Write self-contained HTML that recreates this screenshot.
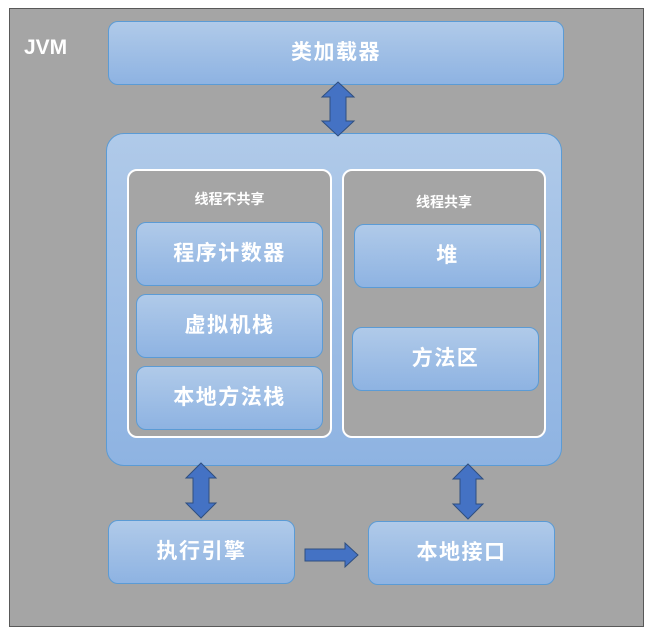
<!DOCTYPE html>
<html><head><meta charset="utf-8"><style>
body{margin:0;width:654px;height:634px;background:#fff;position:relative;overflow:hidden;font-family:"Liberation Sans","Noto Sans CJK SC",sans-serif}
.a{position:absolute;box-sizing:border-box}
.bx{background:linear-gradient(#b0cae9,#8eb3e2);border:1px solid #5b9bd5;border-radius:10px;color:#fff;font-weight:bold;font-size:21px;display:flex;align-items:center;justify-content:center;letter-spacing:1.5px;padding-bottom:4px}
.in{border:2px solid #fff;border-radius:10px;background:#a5a5a5}
.lb{color:#fff;font-weight:bold;font-size:14px;text-align:center}
</style></head><body>
<div class="a" style="left:9px;top:8px;width:635px;height:619px;background:#a5a5a5;border:1px solid #595959"></div>
<div class="a" style="left:24px;top:36px;color:#fff;font-size:21px;font-weight:bold">JVM</div>
<div class="a bx" style="left:108px;top:21px;width:456px;height:64px">类加载器</div>
<div class="a bx" style="left:106px;top:133px;width:456px;height:333px;border-radius:18px"></div>
<div class="a in" style="left:127px;top:169px;width:205px;height:269px"></div>
<div class="a in" style="left:342px;top:169px;width:204px;height:269px"></div>
<div class="a lb" style="left:127px;top:189px;width:205px">线程不共享</div>
<div class="a lb" style="left:342px;top:192px;width:204px">线程共享</div>
<div class="a bx" style="left:136px;top:222px;width:187px;height:64px">程序计数器</div>
<div class="a bx" style="left:136px;top:294px;width:187px;height:64px">虚拟机栈</div>
<div class="a bx" style="left:136px;top:366px;width:187px;height:64px">本地方法栈</div>
<div class="a bx" style="left:354px;top:224px;width:187px;height:64px">堆</div>
<div class="a bx" style="left:352px;top:327px;width:187px;height:64px">方法区</div>
<div class="a bx" style="left:108px;top:520px;width:187px;height:64px">执行引擎</div>
<div class="a bx" style="left:368px;top:521px;width:187px;height:64px">本地接口</div>
<svg class="a" style="left:0;top:0" width="654" height="634">
<g fill="#4472c4" stroke="#2f4f7f" stroke-width="1">
<polygon points="338,82 354,97 346,97 346,121 354,121 338,136 322,121 330,121 330,97 322,97"/>
<polygon points="201,463 216,478 209,478 209,503 216,503 201,518 186,503 193,503 193,478 186,478"/>
<polygon points="468,464 483,479 476,479 476,504 483,504 468,519 453,504 460,504 460,479 453,479"/>
<polygon points="305,549 345,549 345,543 358,555 345,567 345,561 305,561"/>
</g></svg>
</body></html>
